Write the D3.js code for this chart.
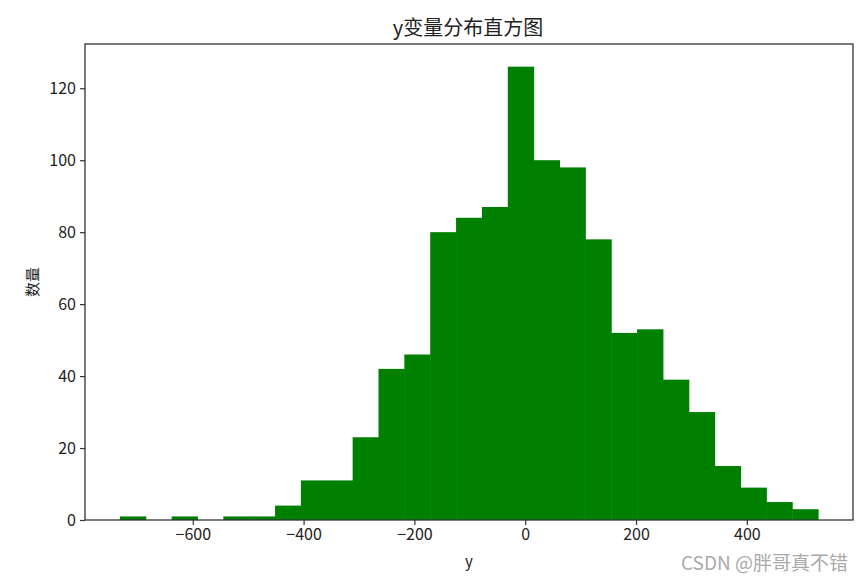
<!DOCTYPE html>
<html><head><meta charset="utf-8">
<script src="https://cdn.jsdelivr.net/npm/d3@7"></script>
<style>
body{margin:0;background:#fff;}
svg{display:block;}
.tick text{font-family:"Liberation Sans Narrow","Noto Sans CJK SC",sans-serif;}
</style></head>
<body>
<script>
// Histogram data
const counts = [1,0,1,0,1,1,4,11,11,23,42,46,80,84,87,126,100,98,78,52,53,39,30,15,9,5,3];
const binRange = [-731.5, 528.6];
const xTicks = [-600,-400,-200,0,200,400];
const yTicks = [0,20,40,60,80,100,120];
const title = "y变量分布直方图";
const xLabel = "y";
const yLabel = "数量";
const watermark = "CSDN @胖哥真不错";

const W = 865, H = 583;
const m = {left:85, right:865-853, top:44, bottom:583-520};
const svg = d3.select("body").append("svg").attr("width",W).attr("height",H);

const nb = counts.length;
const bw = (binRange[1]-binRange[0])/nb;
const bins = counts.map((c,i)=>({x0:binRange[0]+i*bw, x1:binRange[0]+(i+1)*bw, n:c}));
const span = binRange[1]-binRange[0];
const x = d3.scaleLinear().domain([binRange[0]-0.05*span, binRange[1]+0.05*span]).range([m.left, W-m.right]);
const ymax = d3.max(counts)*1.05;
const y = d3.scaleLinear().domain([0,ymax]).range([H-m.bottom, m.top]);

svg.append("g").selectAll("rect").data(bins.filter(d=>d.n>0)).join("rect")
  .attr("x",d=>x(d.x0)).attr("width",d=>x(d.x1)-x(d.x0)+0.5)
  .attr("y",d=>y(d.n)).attr("height",d=>y(0)-y(d.n))
  .attr("fill","#008000");

const fmt = d=> d<0 ? "\u2212"+Math.abs(d) : String(d);
const gx = svg.append("g").attr("transform",`translate(0,${H-m.bottom})`)
  .call(d3.axisBottom(x).tickValues(xTicks).tickSize(5).tickPadding(4).tickFormat(fmt));
const gy = svg.append("g").attr("transform",`translate(${m.left},0)`)
  .call(d3.axisLeft(y).tickValues(yTicks).tickSize(5).tickPadding(4).tickFormat(fmt));
[gx,gy].forEach(g=>{
  g.select(".domain").remove();
  g.selectAll(".tick line").attr("stroke","#333").attr("stroke-width",1.2);
  g.selectAll(".tick text").attr("fill","#222").style("font-size","16px");
});

// frame
svg.append("rect").attr("x",m.left).attr("y",m.top)
  .attr("width",W-m.right-m.left).attr("height",H-m.bottom-m.top)
  .attr("fill","none").attr("stroke","#333").attr("stroke-width",1.3);

const cjk = '"Noto Sans CJK SC",sans-serif';
svg.append("text").attr("x",(m.left+W-m.right)/2 - 1).attr("y",35)
  .attr("text-anchor","middle").style("font-family",cjk).style("font-size","20px").attr("fill","#222").text(title);
svg.append("text").attr("x",(m.left+W-m.right)/2).attr("y",567)
  .attr("text-anchor","middle").style("font-family",cjk).style("font-size","15px").attr("fill","#222").text(xLabel);
svg.append("text").attr("transform",`translate(38,${(m.top+H-m.bottom)/2}) rotate(-90)`)
  .attr("text-anchor","middle").style("font-family",cjk).style("font-size","15px").attr("fill","#222").text(yLabel);
svg.append("text").attr("x",848).attr("y",570)
  .attr("text-anchor","end").style("font-family",cjk).style("font-size","19px").attr("fill","#aaa").text(watermark);
</script>
</body></html>
